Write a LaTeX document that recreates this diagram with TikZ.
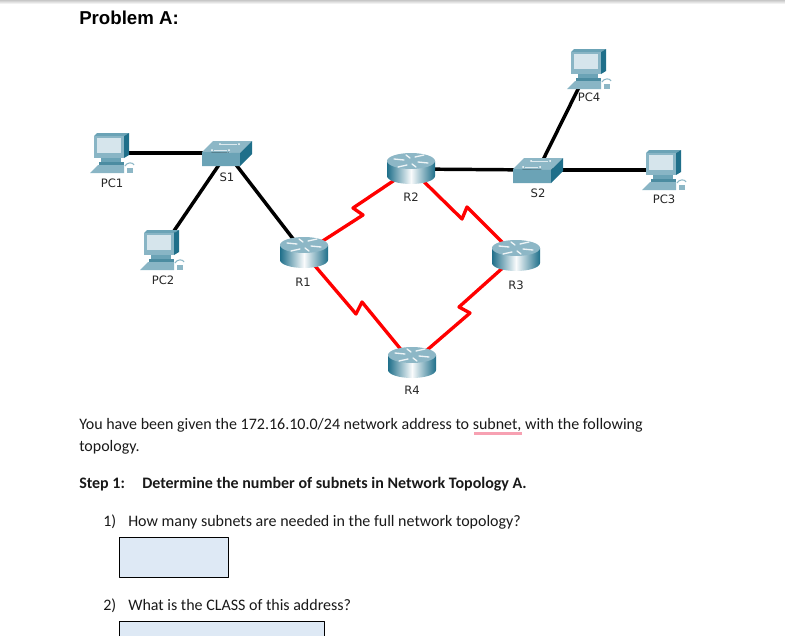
\documentclass[tikz,border=0pt]{standalone}
\usepackage{fontspec}
\setmainfont{Carlito}
\newfontfamily\titlefont{Liberation Sans}
\newfontfamily\devfont{DejaVu Sans}
\definecolor{teallight}{HTML}{8DB7C6}
\definecolor{tealmid}{HTML}{6BA3B6}
\definecolor{tealdark}{HTML}{1F6F8A}
\definecolor{screenblue}{HTML}{D6E5EC}
\definecolor{boxblue}{HTML}{DEE9F5}
\definecolor{spell}{HTML}{F7A1B2}
\tikzset{
	device/.style={inner sep=0pt,minimum width=30,minimum height=30},
	devlabel/.style={font=\devfont\fontsize{8.7}{10}\selectfont,text=black!85,inner sep=0pt},
	doctext/.style={anchor=base west,inner sep=0pt,font=\fontsize{12}{14}\selectfont,text=black!90},
	lan/.style={draw=black,line width=2.6pt},
	wan/.style={draw=red,line width=2.5pt},
	answerbox/.style={draw=black,fill=boxblue,line width=0.7pt},
	pcicon/.pic={
		\fill[tealmid] (-17,-17)--(-14,-20)--(18,-20)--(13,-17)--cycle;
		\fill[tealdark] (13,-17)--(18,-20)--(18,2)--(13,5)--cycle;
		\fill[tealmid!80!white] (-17,-17) rectangle (13,5);
		\fill[screenblue] (-14,-15) rectangle (10,0);
		\fill[tealmid] (-10,5) rectangle (10,9);
		\fill[tealdark!80!white] (-12,9) rectangle (13,12);
		\fill[tealmid!80!white] (-21,20)--(-13,12)--(13,12)--(13,20)--cycle;
		\draw[teallight,line width=0.8pt] (14,13) .. controls (16,9) and (22,9) .. (23,12);
		\fill[teallight] (16,15) rectangle (22,20);
	},
	switchicon/.pic={
		\fill[teallight] (-14,-12)--(25,-12)--(13,0)--(-25,-1)--cycle;
		\fill[tealmid] (-25,-1)--(13,0)--(13,13)--(-25,13)--cycle;
		\fill[tealdark] (13,0)--(25,-12)--(25,1)--(13,13)--cycle;
		\draw[white!70!teallight,line width=0.5pt] (-6,-9)--(10,-9) (-13,-3)--(0,-3);
		\fill[white] (-7,-9) circle (1) (12,-9) circle (1) (-15,-3) circle (1) (2,-3) circle (1);
	},
	routericon/.pic={
		\shade[left color=tealdark,right color=tealdark,middle color=white!85!screenblue]
			(-24,-8)--(24,-8)--(24,7) arc (0:180:24 and 8)--cycle;
		\fill[teallight] (0,-8) ellipse (24 and 8);
		\draw[white!85!teallight,line width=1pt,line cap=round]
			(-17,-10)--(-7,-9) (17,-6)--(7,-7) (-5,-14)--(-1,-11) (5,-2)--(1,-5);
		\draw[white!85!teallight,line width=1pt,line cap=round]
			(4,-12)--(13,-14) (-4,-4)--(-13,-2);
	},
}
\begin{document}
\begin{tikzpicture}[x=0.75pt,y=-0.75pt,line join=round]
	\useasboundingbox (0,0) rectangle (785,636);
	\shade[top color=black!22,bottom color=white] (0,0) rectangle (785,4);

	\node[device] (PC1) at (111,153) {};
	\node[device] (PC2) at (161,250) {};
	\node[device] (PC3) at (663,170) {};
	\node[device] (PC4) at (588,69) {};
	\node[device] (S1) at (227,153) {};
	\node[device] (S2) at (538,170) {};
	\node[device] (R1) at (304,253) {};
	\node[device] (R2) at (411,169) {};
	\node[device] (R3) at (516,256) {};
	\node[device] (R4) at (412,363) {};
	\coordinate (k12a) at (363,215);
	\coordinate (k12b) at (353,208);
	\coordinate (k23a) at (462,219);
	\coordinate (k23b) at (467,207);
	\coordinate (k14a) at (356,314);
	\coordinate (k14b) at (362,302);
	\coordinate (k34a) at (459,307);
	\coordinate (k34b) at (470,313);

	\draw[lan] (PC1.center)--(S1.center);
	\draw[lan] (PC2.center)--(S1.center);
	\draw[lan] (S1.center)--(R1.center);
	\draw[lan] (R2.center)--(S2.center);
	\draw[lan] (S2.center)--(PC3.center);
	\draw[lan] (S2.center)--(PC4.center);
	\draw[wan] (R1.center)--(k12a)--(k12b)--(R2.center);
	\draw[wan] (R2.center)--(k23a)--(k23b)--(R3.center);
	\draw[wan] (R1.center)--(k14a)--(k14b)--(R4.center);
	\draw[wan] (R3.center)--(k34a)--(k34b)--(R4.center);

	\pic at (PC1) {pcicon};
	\pic at (PC2) {pcicon};
	\pic at (PC3) {pcicon};
	\pic at (PC4) {pcicon};
	\pic at (S1) {switchicon};
	\pic at (S2) {switchicon};
	\pic at (R1) {routericon};
	\pic at (R2) {routericon};
	\pic at (R3) {routericon};
	\pic at (R4) {routericon};

	\node[devlabel] (PC1lab) at (112,183) {PC1};
	\node[devlabel] (PC2lab) at (163,280) {PC2};
	\node[devlabel] (PC3lab) at (664,199) {PC3};
	\node[devlabel] (PC4lab) at (589,97) {PC4};
	\node[devlabel] (S1lab) at (227,177) {S1};
	\node[devlabel] (S2lab) at (538,193) {S2};
	\node[devlabel] (R1lab) at (303,282) {R1};
	\node[devlabel] (R2lab) at (411,197) {R2};
	\node[devlabel] (R3lab) at (516,285) {R3};
	\node[devlabel] (R4lab) at (412,390) {R4};

	\node[anchor=base west,inner sep=0pt,font=\titlefont\bfseries\fontsize{14}{16}\selectfont] (title) at (79,24) {Problem A:};
	\fill[spell] (474,432) rectangle (522,434.5);
	\node[doctext] (intro) at (79,429) {You have been given the 172.16.10.0/24 network address to subnet, with the following};
	\node[doctext] (introb) at (79,451) {topology.};
	\node[doctext,font=\bfseries\fontsize{12}{14}\selectfont] (step) at (79,488) {Step 1:};
	\node[doctext,font=\bfseries\fontsize{12}{14}\selectfont] (stepb) at (142,488) {Determine the number of subnets in Network Topology A.};
	\node[doctext] (qa) at (103,526) {1)};
	\node[doctext] (qb) at (128,526) {How many subnets are needed in the full network topology?};
	\node[doctext] (qc) at (103,610) {2)};
	\node[doctext] (qd) at (128,610) {What is the CLASS of this address?};
	\draw[answerbox] (119.5,537.5) rectangle (228.5,577.5);
	\fill[boxblue] (119.5,621.5) rectangle (324.5,636);
	\draw[black,line width=0.7pt] (119.5,636)--(119.5,621.5)--(324.5,621.5)--(324.5,636);
\end{tikzpicture}
\end{document}
